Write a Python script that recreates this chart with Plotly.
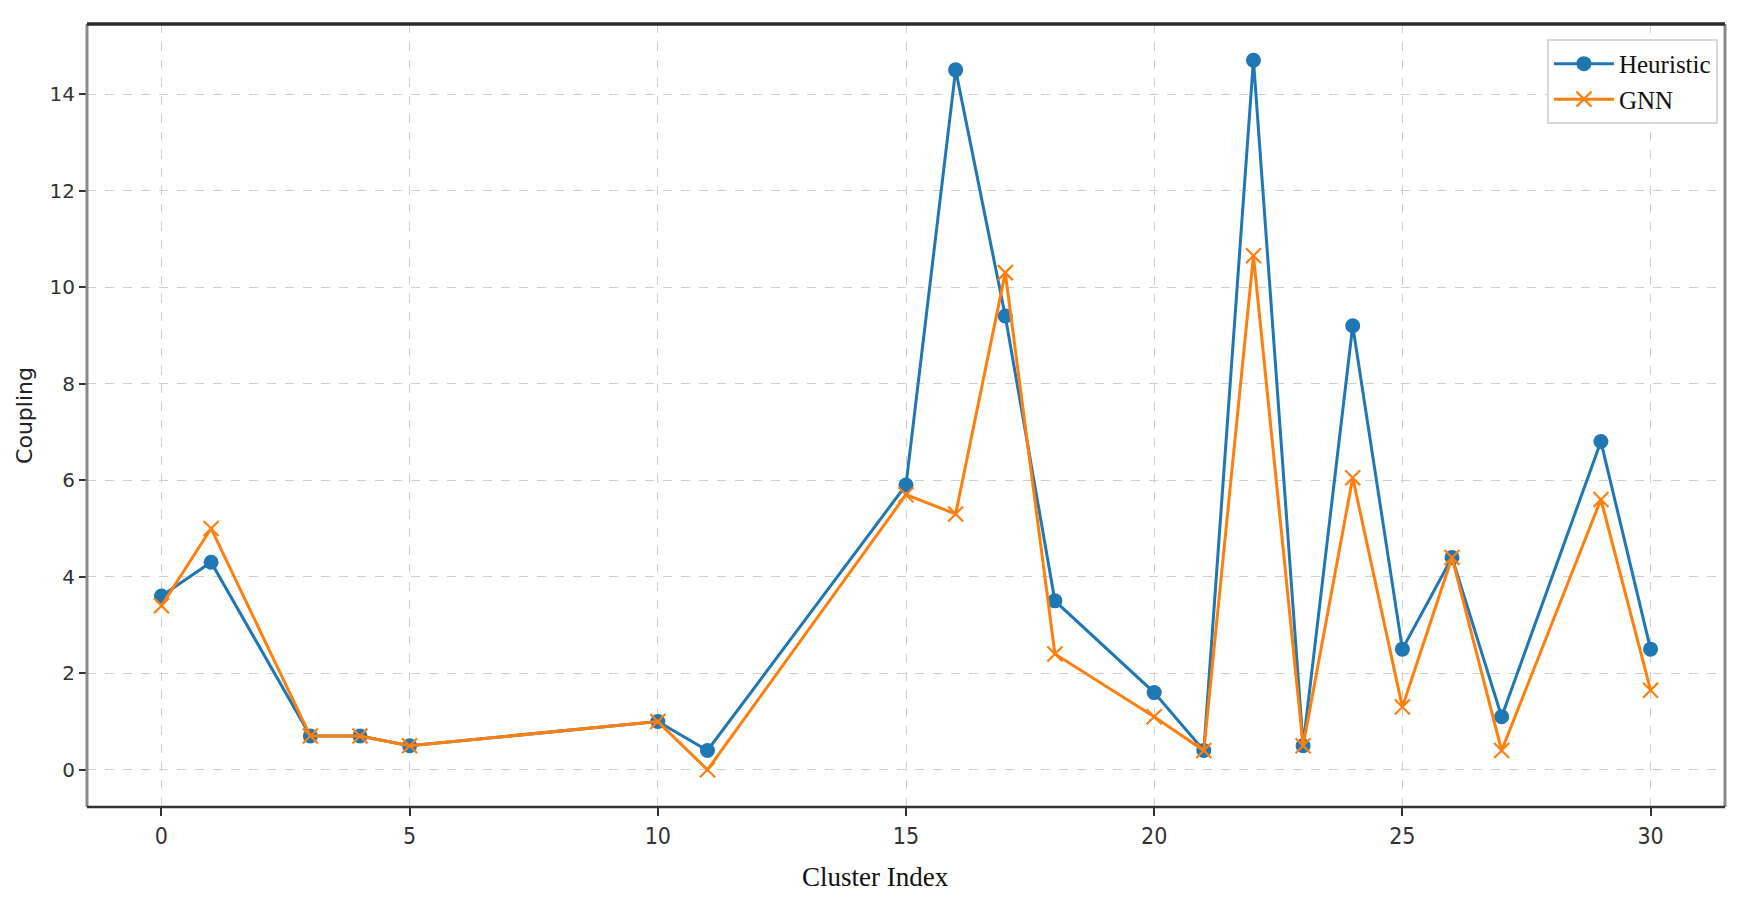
import plotly.graph_objects as go

cluster_index = [0, 1, 3, 4, 5, 10, 11, 15, 16, 17, 18, 20, 21, 22, 23, 24, 25, 26, 27, 29, 30]
heuristic = [3.6, 4.3, 0.7, 0.7, 0.5, 1.0, 0.4, 5.9, 14.5, 9.4, 3.5, 1.6, 0.4, 14.7, 0.5, 9.2, 2.5, 4.4, 1.1, 6.8, 2.5]
gnn = [3.4, 5.0, 0.7, 0.7, 0.5, 1.0, 0.0, 5.7, 5.3, 10.3, 2.4, 1.1, 0.4, 10.65, 0.5, 6.05, 1.3, 4.4, 0.4, 5.6, 1.65]
x_ticks = [0, 5, 10, 15, 20, 25, 30]
y_ticks = [0, 2, 4, 6, 8, 10, 12, 14]

blue = "#1f77b4"
orange = "#ff7f0e"
serif = "Liberation Serif, Times New Roman, serif"

fig = go.Figure()
fig.add_trace(go.Scatter(
    x=cluster_index, y=heuristic, mode="lines+markers", name="Heuristic",
    line=dict(color=blue, width=3),
    marker=dict(symbol="circle", size=15, color=blue),
))
fig.add_trace(go.Scatter(
    x=cluster_index, y=gnn, mode="lines+markers", name="GNN",
    line=dict(color=orange, width=3),
    marker=dict(symbol="x-thin-open", size=15, color=orange, line=dict(color=orange, width=2.2)),
))

fig.update_layout(
    width=1740, height=901,
    margin=dict(l=87, r=15, t=24, b=94),
    paper_bgcolor="white", plot_bgcolor="white",
    showlegend=True,
    legend=dict(
        x=0.9957, y=0.981, xanchor="right", yanchor="top",
        bgcolor="rgba(255,255,255,0.9)", bordercolor="#d8d8d8", borderwidth=2,
        font=dict(family=serif, size=25, color="#111"),
        itemwidth=60,
    ),
    xaxis=dict(
        range=[-1.5, 31.5], tickvals=x_ticks, ticktext=[str(v) for v in x_ticks],
        showgrid=True, gridcolor="#d0d0d0", griddash="dash", gridwidth=1,
        zeroline=False, ticks="outside", ticklen=8, tickwidth=1.5, tickcolor="#333",
        tickfont=dict(family="Liberation Sans Narrow, DejaVu Sans Condensed, DejaVu Sans", size=23, color="#333"),
        showline=False,
    ),
    yaxis=dict(
        range=[-0.77, 15.45], tickvals=y_ticks, ticktext=[str(v) for v in y_ticks],
        showgrid=True, gridcolor="#d0d0d0", griddash="dash", gridwidth=1,
        zeroline=False, ticks="outside", ticklen=7, tickwidth=1.5, tickcolor="#333",
        tickfont=dict(family="DejaVu Sans", size=20, color="#333"),
        showline=False,
    ),
    annotations=[
        dict(text="Cluster Index", xref="paper", yref="paper", x=0.4816, y=-0.0894,
             xanchor="center", yanchor="middle", showarrow=False,
             font=dict(family=serif, size=27, color="#111")),
        dict(text="Coupling", xref="paper", yref="paper", x=-0.0382, y=0.5,
             xanchor="center", yanchor="middle", showarrow=False, textangle=-90,
             font=dict(family="DejaVu Sans", size=22, color="#222")),
    ],
)

# axis frame (spines)
fig.add_shape(type="line", xref="paper", yref="paper", x0=0, x1=0, y0=0, y1=1,
              line=dict(color="#888888", width=3))
fig.add_shape(type="line", xref="paper", yref="paper", x0=1, x1=1, y0=0, y1=1,
              line=dict(color="#888888", width=3))
fig.add_shape(type="line", xref="paper", yref="paper", x0=0, x1=1, y0=0, y1=0,
              line=dict(color="#333333", width=2.5))
fig.add_shape(type="line", xref="paper", yref="paper", x0=0, x1=1, y0=1, y1=1,
              line=dict(color="#2a2a2a", width=3.5))

fig.write_html("out.html")
